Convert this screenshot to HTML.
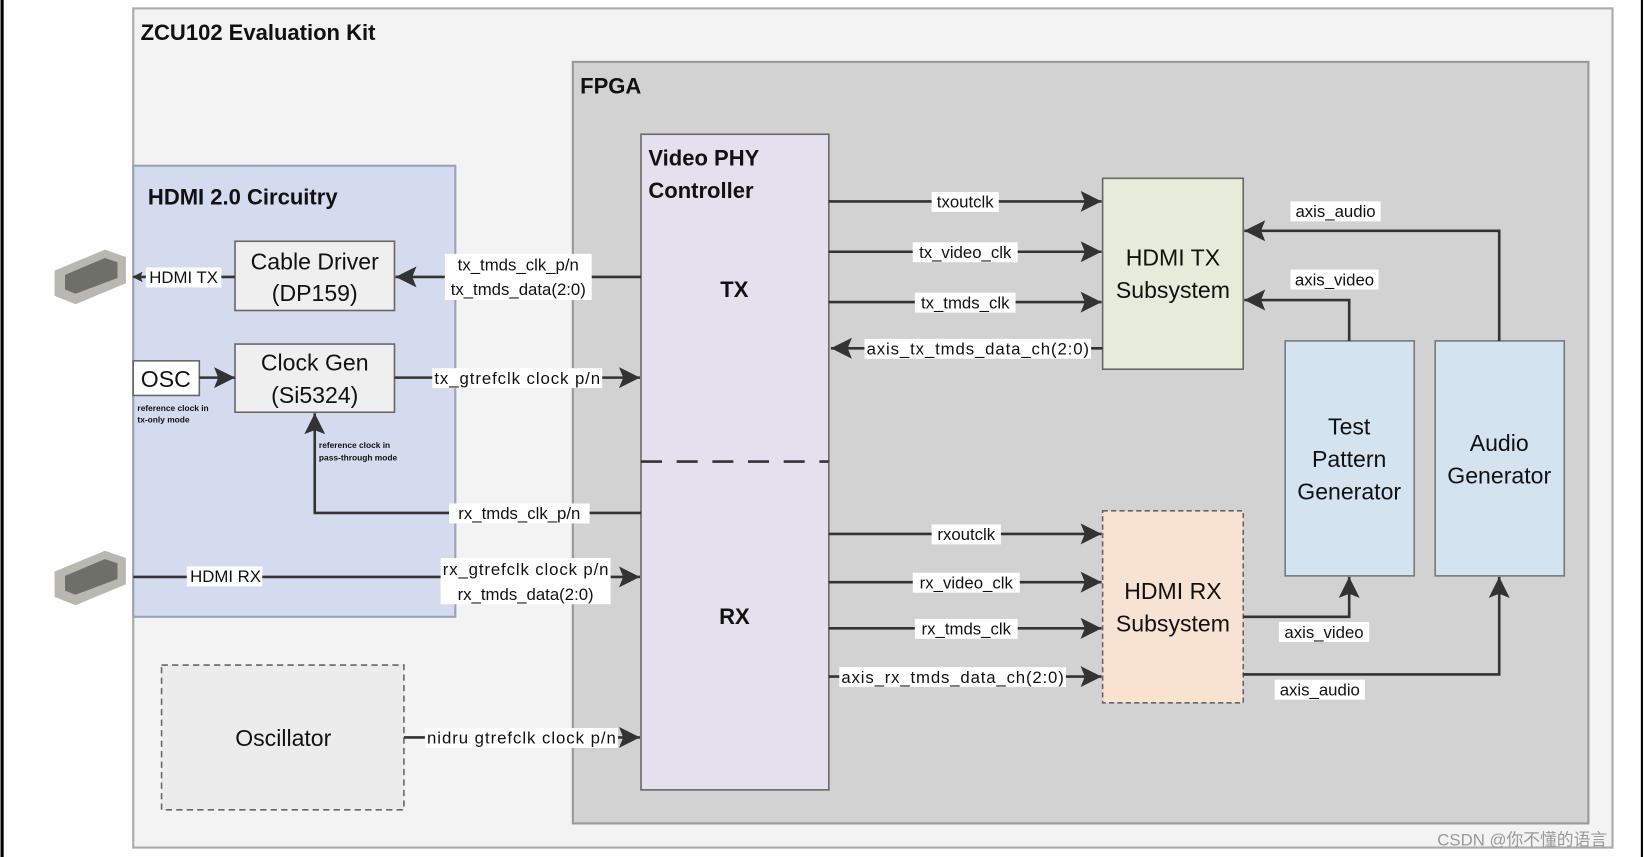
<!DOCTYPE html>
<html><head><meta charset="utf-8"><style>
html,body{margin:0;padding:0;background:#fff;}
svg{display:block;}
text{font-family:"Liberation Sans",sans-serif;fill:#111;}
.s{font-size:16px;}
.b{font-size:22px;}
.t{font-size:21px;font-weight:bold;}
</style></head><body>
<svg width="1644" height="857" viewBox="0 0 1567 817" preserveAspectRatio="none" xmlns="http://www.w3.org/2000/svg">
<defs>
<marker id="a" markerWidth="10" markerHeight="10" refX="9" refY="5" orient="auto" markerUnits="userSpaceOnUse" viewBox="0 0 10 10">
<path d="M0,0 L10,5 L0,10 L2,5 Z" fill="#333"/></marker>
<marker id="A" markerWidth="22" markerHeight="20" refX="20" refY="10" orient="auto" markerUnits="userSpaceOnUse">
<path d="M0,0 L20,10 L0,20 L4,10 Z" fill="#333"/></marker>
</defs>
<rect x="0" y="0" width="1567" height="817" fill="#fff"/>
<line x1="2" y1="0" x2="2" y2="817" stroke="#000" stroke-width="3"/>
<line x1="1565" y1="0" x2="1565" y2="817" stroke="#000" stroke-width="2"/>
<!-- kit -->
<rect x="127" y="8" width="1410" height="800" fill="#f3f3f3" stroke="#aaa" stroke-width="2"/>
<text x="134" y="38" class="t">ZCU102 Evaluation Kit</text>
<!-- FPGA -->
<rect x="546" y="59" width="968" height="726" fill="#d2d2d2" stroke="#999" stroke-width="2"/>
<text x="553" y="89" class="t">FPGA</text>
<!-- HDMI circuitry -->
<rect x="127" y="158" width="307" height="430" fill="#d5dbee" stroke="#9aa3b5" stroke-width="2"/>
<text x="141" y="195" class="t">HDMI 2.0 Circuitry</text>
<rect x="224" y="230" width="152" height="66" fill="#efefef" stroke="#666" stroke-width="1.5"/>
<text x="300" y="257" class="b" text-anchor="middle">Cable Driver</text>
<text x="300" y="287" class="b" text-anchor="middle">(DP159)</text>
<rect x="224" y="328" width="152" height="65" fill="#efefef" stroke="#666" stroke-width="1.5"/>
<text x="300" y="353" class="b" text-anchor="middle">Clock Gen</text>
<text x="300" y="384" class="b" text-anchor="middle">(Si5324)</text>
<rect x="127" y="344" width="63" height="33" fill="#fff" stroke="#666" stroke-width="1.5"/>
<text x="158" y="369" class="b" text-anchor="middle">OSC</text>
<text x="131" y="392" font-size="8" font-weight="bold">reference clock in</text>
<text x="131" y="403" font-size="8" font-weight="bold">tx-only mode</text>
<text x="304" y="427" font-size="8" font-weight="bold">reference clock in</text>
<text x="304" y="439" font-size="8" font-weight="bold">pass-through mode</text>
<!-- connectors -->
<g>
<path d="M52,258 L100,238 L120,245 L120,270 L72,290 L52,282 Z" fill="#b8b8b0"/>
<path d="M62,262 L100,246 L112,250 L112,265 L72,280 L62,276 Z" fill="#6f6f6a"/>
<path d="M52,545 L100,525 L120,532 L120,557 L72,577 L52,569 Z" fill="#b8b8b0"/>
<path d="M62,549 L100,533 L112,537 L112,552 L72,567 L62,563 Z" fill="#6f6f6a"/>
</g>
<!-- Oscillator -->
<rect x="154" y="634" width="231" height="138" fill="#ececec" stroke="#666" stroke-width="1.5" stroke-dasharray="6,4"/>
<text x="270" y="711" class="b" text-anchor="middle">Oscillator</text>
<!-- Video PHY -->
<rect x="611" y="128" width="179" height="625" fill="#e4e0ee" stroke="#666" stroke-width="1.5"/>
<text x="618" y="158" class="t">Video PHY</text>
<text x="618" y="189" class="t">Controller</text>
<text x="700" y="283" class="t" text-anchor="middle">TX</text>
<text x="700" y="595" class="t" text-anchor="middle">RX</text>
<line x1="611" y1="440" x2="790" y2="440" stroke="#333" stroke-width="2.5" stroke-dasharray="20,14"/>
<!-- HDMI TX -->
<rect x="1051" y="170" width="134" height="182" fill="#e6ecd9" stroke="#666" stroke-width="1.5"/>
<text x="1118" y="253" class="b" text-anchor="middle">HDMI TX</text>
<text x="1118" y="284" class="b" text-anchor="middle">Subsystem</text>
<rect x="1051" y="487" width="134" height="183" fill="#f8e2d2" stroke="#666" stroke-width="1.5" stroke-dasharray="5,3"/>
<text x="1118" y="571" class="b" text-anchor="middle">HDMI RX</text>
<text x="1118" y="602" class="b" text-anchor="middle">Subsystem</text>
<rect x="1225" y="325" width="123" height="224" fill="#d3e3ef" stroke="#777" stroke-width="1.5"/>
<text x="1286" y="414" class="b" text-anchor="middle">Test</text>
<text x="1286" y="445" class="b" text-anchor="middle">Pattern</text>
<text x="1286" y="476" class="b" text-anchor="middle">Generator</text>
<rect x="1368" y="325" width="123" height="224" fill="#d3e3ef" stroke="#777" stroke-width="1.5"/>
<text x="1429" y="430" class="b" text-anchor="middle">Audio</text>
<text x="1429" y="461" class="b" text-anchor="middle">Generator</text>
<!-- lines -->
<g stroke="#333" stroke-width="2.5" fill="none">
<line x1="790" y1="192" x2="1050" y2="192" marker-end="url(#A)"/>
<line x1="790" y1="240" x2="1050" y2="240" marker-end="url(#A)"/>
<line x1="790" y1="288" x2="1050" y2="288" marker-end="url(#A)"/>
<line x1="1051" y1="332" x2="792" y2="332" marker-end="url(#A)"/>
<polyline points="1429,325 1429,220 1186,220" marker-end="url(#A)"/>
<polyline points="1286,325 1286,286 1186,286" marker-end="url(#A)"/>
<line x1="611" y1="264" x2="377" y2="264" marker-end="url(#A)"/>
<line x1="224" y1="264" x2="127" y2="264" marker-end="url(#a)"/>
<line x1="190" y1="360" x2="224" y2="360" marker-end="url(#A)"/>
<line x1="376" y1="360" x2="610" y2="360" marker-end="url(#A)"/>
<polyline points="611,489 300,489 300,394" marker-end="url(#A)"/>
<line x1="127" y1="550" x2="610" y2="550" marker-end="url(#A)"/>
<line x1="790" y1="509" x2="1050" y2="509" marker-end="url(#A)"/>
<line x1="790" y1="555" x2="1050" y2="555" marker-end="url(#A)"/>
<line x1="790" y1="599" x2="1050" y2="599" marker-end="url(#A)"/>
<line x1="790" y1="645" x2="1050" y2="645" marker-end="url(#A)"/>
<polyline points="1185,588 1286,588 1286,550" marker-end="url(#A)"/>
<polyline points="1185,643 1429,643 1429,550" marker-end="url(#A)"/>
<line x1="385" y1="703" x2="610" y2="703" marker-end="url(#A)"/>
</g>
<!-- labels -->
<g class="s">
<rect x="888" y="183" width="64" height="19" fill="#fff"/><text x="920" y="198" class="s" text-anchor="middle">txoutclk</text>
<rect x="870" y="231" width="100" height="19" fill="#fff"/><text x="920" y="246" class="s" text-anchor="middle">tx_video_clk</text>
<rect x="872" y="279" width="96" height="19" fill="#fff"/><text x="920" y="294" class="s" text-anchor="middle">tx_tmds_clk</text>
<rect x="824" y="323" width="216" height="19" fill="#fff"/><text x="932" y="338" class="s" text-anchor="middle" textLength="212">axis_tx_tmds_data_ch(2:0)</text>
<rect x="1230" y="192" width="86" height="19" fill="#fff"/><text x="1273" y="207" class="s" text-anchor="middle">axis_audio</text>
<rect x="1230" y="257" width="84" height="19" fill="#fff"/><text x="1272" y="272" class="s" text-anchor="middle">axis_video</text>
<rect x="424" y="242" width="140" height="44" fill="#fff"/>
<text x="494" y="258" class="s" text-anchor="middle">tx_tmds_clk_p/n</text>
<text x="494" y="281" class="s" text-anchor="middle">tx_tmds_data(2:0)</text>
<rect x="139" y="255" width="72" height="19" fill="#fff"/><text x="175" y="270" class="s" text-anchor="middle">HDMI TX</text>
<rect x="412" y="351" width="162" height="19" fill="#fff"/><text x="493" y="366" class="s" text-anchor="middle" textLength="158">tx_gtrefclk clock p/n</text>
<rect x="428" y="480" width="134" height="19" fill="#fff"/><text x="495" y="495" class="s" text-anchor="middle">rx_tmds_clk_p/n</text>
<rect x="178" y="540" width="72" height="19" fill="#fff"/><text x="215" y="555" class="s" text-anchor="middle">HDMI RX</text>
<rect x="420" y="532" width="162" height="44" fill="#fff"/>
<text x="501" y="548" class="s" text-anchor="middle" textLength="158">rx_gtrefclk clock p/n</text>
<text x="501" y="572" class="s" text-anchor="middle">rx_tmds_data(2:0)</text>
<rect x="888" y="500" width="66" height="19" fill="#fff"/><text x="921" y="515" class="s" text-anchor="middle">rxoutclk</text>
<rect x="870" y="546" width="102" height="19" fill="#fff"/><text x="921" y="561" class="s" text-anchor="middle">rx_video_clk</text>
<rect x="872" y="590" width="98" height="19" fill="#fff"/><text x="921" y="605" class="s" text-anchor="middle">rx_tmds_clk</text>
<rect x="800" y="636" width="216" height="19" fill="#fff"/><text x="908" y="651" class="s" text-anchor="middle" textLength="212">axis_rx_tmds_data_ch(2:0)</text>
<rect x="1219" y="593" width="86" height="19" fill="#fff"/><text x="1262" y="608" class="s" text-anchor="middle">axis_video</text>
<rect x="1215" y="648" width="86" height="19" fill="#fff"/><text x="1258" y="663" class="s" text-anchor="middle">axis_audio</text>
<rect x="405" y="694" width="184" height="19" fill="#fff"/><text x="497" y="709" class="s" text-anchor="middle" textLength="180">nidru gtrefclk clock p/n</text>
</g>
<text x="1370" y="806" font-size="16" style="fill:#999" font-family="Liberation Sans, Noto Sans CJK SC, sans-serif">CSDN @你不懂的语言</text>
</svg>
</body></html>
